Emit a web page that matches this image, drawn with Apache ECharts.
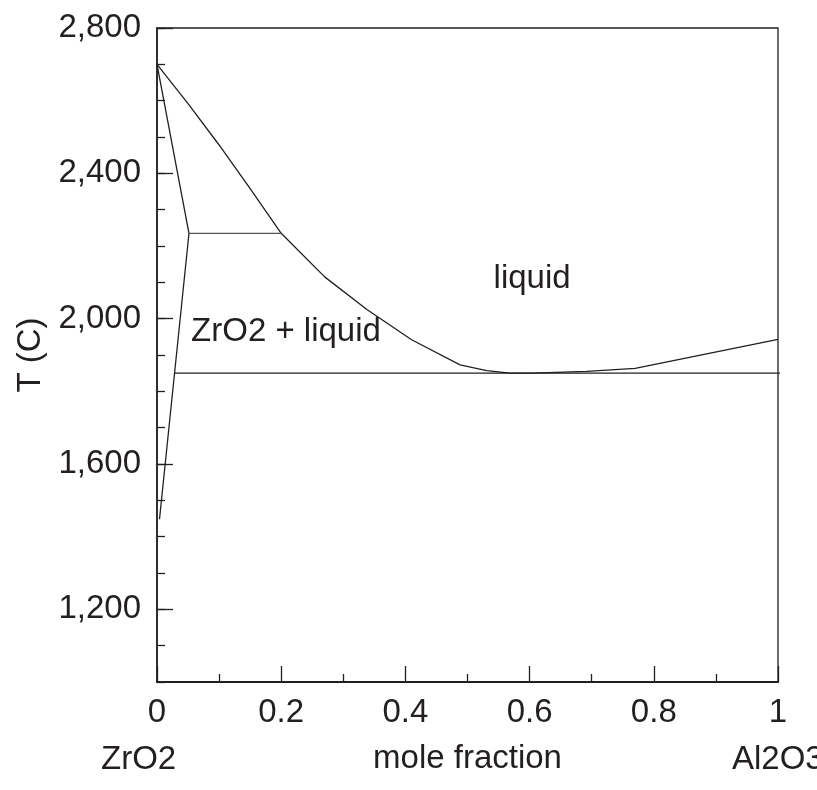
<!DOCTYPE html>
<html>
<head>
<meta charset="utf-8">
<script src="https://cdn.jsdelivr.net/npm/echarts@6/dist/echarts.min.js"></script>
<style>
  html, body { margin: 0; padding: 0; background: #fff; }
  #container { width: 817px; height: 790px; }
</style>
</head>
<body>
<div id="container"></div>
<script>
// phase boundaries, [mole fraction Al2O3, T in C]
var liquidus = [[0, 2700], [0.05, 2592], [0.1, 2478], [0.15, 2358], [0.2, 2235], [0.27, 2115],
  [0.338, 2025], [0.41, 1942], [0.488, 1873], [0.531, 1857], [0.568, 1850], [0.605, 1850],
  [0.692, 1855], [0.77, 1863], [1, 1943]];
var solidus = [[0, 2700], [0.0515, 2235], [0.004, 1448]];
var tieLine = [[0.0515, 2235], [0.2, 2235]];
var eutectic = [[0.029, 1850], [1.004, 1850]];
var regionLabels = [
  { name: 'liquid', value: [0.604, 2110] },
  { name: 'ZrO2 + liquid', value: [0.2077, 1964] }
];
var yLabelValues = [1200, 1600, 2000, 2400, 2800];

var ink = '#231f20';
var font = 'Liberation Sans, Arial, sans-serif';
var fs = 33;

var dom = document.getElementById('container');
var myChart = echarts.init(dom, null, { renderer: 'canvas' });

var option = {
  animation: false,
  grid: {
    left: 157, right: 39, top: 28, bottom: 108,
    show: true, borderColor: ink, borderWidth: 1.3
  },
  xAxis: {
    type: 'value', min: 0, max: 1, interval: 0.2,
    name: 'mole fraction', nameLocation: 'middle', nameGap: 60,
    nameTextStyle: { fontSize: fs, color: ink, fontFamily: font },
    axisLine: { lineStyle: { color: ink, width: 2 } },
    axisTick: { inside: true, length: 16, lineStyle: { color: ink, width: 1.3 } },
    minorTick: { show: true, splitNumber: 2, length: 8, lineStyle: { color: ink, width: 1.3 } },
    splitLine: { show: false },
    axisLabel: {
      fontSize: fs, color: ink, fontFamily: font, margin: 14,
      formatter: function (v) { return String(Math.round(v * 10) / 10); }
    }
  },
  yAxis: [
    {
      type: 'value', min: 1000, max: 2800, interval: 100,
      name: 'T (C)', nameLocation: 'middle', nameGap: 108,
      nameTextStyle: { fontSize: fs, color: ink, fontFamily: font },
      axisLine: { show: true, lineStyle: { color: ink, width: 1.6 } },
      axisTick: { inside: true, length: 8, lineStyle: { color: ink, width: 1.3 } },
      splitLine: { show: false },
      axisLabel: {
        fontSize: fs, color: ink, fontFamily: font, margin: 16,
        formatter: function (v) {
          return yLabelValues.indexOf(v) >= 0 ? v.toLocaleString('en-US') : '';
        }
      }
    },
    {
      type: 'value', min: 1000, max: 2800, position: 'left',
      axisLine: { show: false },
      axisTick: { show: true, inside: true, length: 16, customValues: yLabelValues,
        lineStyle: { color: ink, width: 1.3 } },
      axisLabel: { show: false },
      splitLine: { show: false }
    }
  ],
  series: [
    { type: 'line', data: liquidus, symbol: 'none', lineStyle: { color: ink, width: 1.3 } },
    { type: 'line', data: solidus, symbol: 'none', lineStyle: { color: ink, width: 1.3 } },
    { type: 'line', data: tieLine, symbol: 'none', lineStyle: { color: '#555', width: 1.3 } },
    { type: 'line', data: eutectic, symbol: 'none', clip: false, lineStyle: { color: ink, width: 1.3 } },
    {
      type: 'scatter', data: regionLabels, symbolSize: 0,
      itemStyle: { opacity: 1, color: ink },
      label: {
        show: true, position: 'inside', formatter: '{b}',
        fontSize: fs, color: ink, fontFamily: font
      }
    }
  ],
  graphic: [
    { type: 'text', left: 101, top: 743, style: { text: 'ZrO2', fontSize: fs, fill: ink, fontFamily: font } },
    { type: 'text', left: 732, top: 743, style: { text: 'Al2O3', fontSize: fs, fill: ink, fontFamily: font } }
  ]
};

myChart.setOption(option);
window.addEventListener('resize', myChart.resize);
</script>
</body>
</html>
